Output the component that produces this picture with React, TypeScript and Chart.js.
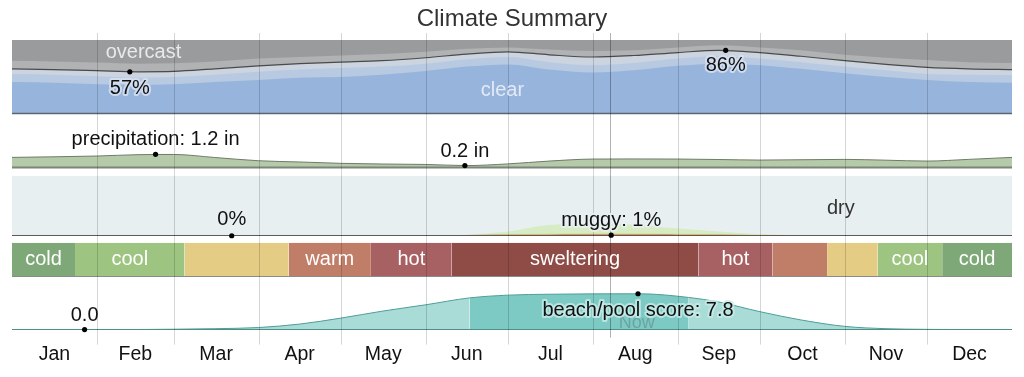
import React, { useEffect, useRef } from 'react';
import { Chart, registerables } from 'chart.js';

Chart.register(...registerables);

// ================= DATA =================
const monthLabels = ['Jan', 'Feb', 'Mar', 'Apr', 'May', 'Jun', 'Jul', 'Aug', 'Sep', 'Oct', 'Nov', 'Dec'];
const monthMidDays = [15.5, 45, 74.5, 105, 135.5, 166, 196.5, 227.5, 258, 288.5, 319, 349.5];
const monthStartDays = [31, 59, 90, 120, 151, 181, 212, 243, 273, 304, 334];
const nowDay = 218.3;

const sampleDays = [0, 15, 31, 46, 59, 74, 90, 105, 120, 135, 151, 166, 181, 196, 212, 227, 243, 258, 273, 288, 304, 319, 334, 349, 365];

// cloud cover, cumulative % of time (clear, +mostly clear, +partly cloudy, +mostly cloudy, +overcast)
const clearPct = [43, 42, 40, 39, 40, 43, 46, 49, 50, 53, 58, 64, 67, 60, 56, 59, 65, 68, 66, 61, 55, 50, 46, 43, 42];
const mostlyClearPct = [54, 53, 51, 49, 50, 53, 57, 60, 62, 64, 68, 74, 77, 70, 66, 69, 75, 78, 75, 70, 64, 59, 54, 53, 52.5];
const partlyCloudyPct = [61, 60, 58.5, 57, 57.5, 61, 65, 68, 70, 72, 76, 81, 84, 80, 77, 79, 83, 86, 83, 78, 72, 67, 63, 61, 60];
const mostlyCloudyPct = [72, 71, 69.5, 68, 68.5, 71, 75, 77, 79, 81, 84, 88, 90, 87, 85, 86, 90, 93, 90, 86, 80, 76, 73, 70, 69];
const overcastDays = [0, 365];
const overcastPct = [100, 100];

// precipitation (inches, sliding 31-day)
const precipIn = [0.93, 0.98, 1.05, 1.17, 1.19, 0.92, 0.63, 0.52, 0.4, 0.34, 0.3, 0.2, 0.35, 0.6, 0.78, 0.79, 0.78, 0.74, 0.69, 0.72, 0.75, 0.68, 0.6, 0.75, 0.93];

// humidity comfort, cumulative % of time
const humidityDays = [0, 135, 151, 166, 181, 196, 212, 227, 243, 258, 273, 288, 304, 365];
const muggyPct = [0, 0, 0, 0.2, 0.5, 0.8, 1, 1, 0.8, 0.5, 0.3, 0.1, 0.05, 0];
const humidPct = [0, 0, 0, 0.5, 1.5, 2.5, 3, 3, 2.5, 1.5, 0.8, 0.3, 0, 0];
const comfortablePct = [0, 0, 0.3, 1.5, 7, 18, 20, 18.5, 12, 7, 2.5, 0.5, 0, 0];
const dryDays = [0, 365];
const dryPct = [100, 100];

// temperature bands
const tempBandStartDays = [0, 23, 63, 101, 131, 160.5, 250.5, 277.5, 297.5, 316, 339.5];
const tempBandEndDays = [23, 63, 101, 131, 160.5, 250.5, 277.5, 297.5, 316, 339.5, 365];
const tempBandKinds = ['cold', 'cool', 'comfortable', 'warm', 'hot', 'sweltering', 'hot', 'warm', 'comfortable', 'cool', 'cold'];
const tempBandTexts = ['cold', 'cool', '', 'warm', 'hot', 'sweltering', 'hot', '', '', 'cool', 'cold'];

// beach/pool score
const beachDays = [0, 15, 31, 46, 59, 74, 90, 105, 120, 135, 151, 167, 181, 196, 212, 229, 247, 258, 273, 288, 304, 319, 334, 349, 365];
const beachScore = [0, 0, 0, 0.02, 0.08, 0.2, 0.45, 1.2, 2.5, 4.0, 5.4, 6.9, 7.5, 7.7, 7.78, 7.8, 7.0, 6.0, 3.9, 2.1, 0.7, 0.2, 0.05, 0, 0];
const bestSeasonStart = 167;
const bestSeasonEnd = 247;

// callouts (extremes)
const calloutTexts = ['57%', '86%', 'precipitation: 1.2 in', '0.2 in', '0%', 'muggy: 1%', '0.0', 'beach/pool score: 7.8'];
const calloutDays = [43, 260.5, 52.4, 165.3, 80.2, 218.7, 26.5, 228.5];
const calloutValues = [57, 86, 1.2, 0.2, 0, 1, 0, 7.8];
const calloutAxes = ['yCloud', 'yCloud', 'yPrecip', 'yPrecip', 'yHum', 'yHum', 'yBeach', 'yBeach'];

// region names
const regionTexts = ['overcast', 'clear', 'dry', 'Now'];
const regionDays = [48, 179, 302.5, 228];
const regionValues = [83, 32, 45, 1.5];
const regionAxes = ['yCloud', 'yCloud', 'yHum', 'yBeach'];

// ================= STYLE =================
const FONT = "'Liberation Sans', Arial, Helvetica, sans-serif";
const tempColors: Record<string, string> = {
  cold: '#7fa878',
  cool: '#9dc480',
  comfortable: '#e4cc84',
  warm: '#c07d68',
  hot: '#a76163',
  sweltering: '#8f4c46',
};
const calloutOffsetY = [17, 15, -14.5, -14.5, -16, -14.5, -14, 16.5];
const calloutHalo = [
  'rgba(215,225,240,0.85)', 'rgba(215,225,240,0.85)', null, null,
  'rgba(232,239,241,0.9)', 'rgba(232,239,241,0.9)', null, 'rgba(200,235,232,0.8)',
];
const regionColors = ['rgba(255,255,255,0.78)', 'rgba(255,255,255,0.72)', '#333', 'rgba(60,60,60,0.28)'];
const regionSizes = [20, 20, 20, 18];
const baselineStyles: [string, string, number][] = [
  ['yCloud', '#5b6675', 1.5],
  ['yPrecip', '#7d8479', 2],
  ['yHum', '#5a5a5a', 1],
  ['yTemp', '#8a8a8a', 1],
  ['yBeach', '#4d8f8a', 1],
];

const pts = (xs: number[], ys: number[]) => xs.map((x, i) => ({ x, y: ys[i] }));

function area(label: string, yAxisID: string, xs: number[], ys: number[], fillColor: string,
  lineColor = 'transparent', lineWidth = 0, extra: any = {}) {
  return {
    type: 'line', label, yAxisID, xAxisID: 'x', data: pts(xs, ys),
    backgroundColor: fillColor, borderColor: lineColor, borderWidth: lineWidth,
    fill: 'origin', pointRadius: 0, pointHoverRadius: 0,
    cubicInterpolationMode: 'monotone', ...extra,
  };
}

function panelAxis(weight: number, stackWeight: number, min: number, max: number) {
  return {
    type: 'linear', position: 'left', stack: 'panels', stackWeight, weight, min, max,
    display: true, offset: false,
    grid: { display: false, drawTicks: false },
    border: { display: false },
    ticks: { display: false },
    title: { display: false },
  };
}

function drawText(ctx: CanvasRenderingContext2D, text: string, x: number, y: number, color: string, size: number, halo?: string | null) {
  ctx.font = `${size}px ${FONT}`;
  ctx.textAlign = 'center';
  ctx.textBaseline = 'middle';
  if (halo) {
    ctx.lineWidth = 4;
    ctx.lineJoin = 'round';
    ctx.strokeStyle = halo;
    ctx.strokeText(text, x, y);
  }
  ctx.fillStyle = color;
  ctx.fillText(text, x, y);
}

const overlayPlugin = {
  id: 'overlay',
  afterDatasetsDraw(chart: any) {
    const { ctx, chartArea: a, scales } = chart;
    const xs = scales.x;
    ctx.save();
    // panel baselines
    for (const [id, color, w] of baselineStyles) {
      const s = scales[id];
      const y = Math.round(s.getPixelForValue(s.min)) - 0.5;
      ctx.strokeStyle = color;
      ctx.lineWidth = w;
      ctx.beginPath();
      ctx.moveTo(a.left, y);
      ctx.lineTo(a.right, y);
      ctx.stroke();
    }
    // month separators
    ctx.strokeStyle = 'rgba(0,0,0,0.16)';
    ctx.lineWidth = 1;
    for (const d of monthStartDays) {
      const x = Math.round(xs.getPixelForValue(d)) + 0.5;
      ctx.beginPath();
      ctx.moveTo(x, a.top - 7);
      ctx.lineTo(x, a.bottom + 15);
      ctx.stroke();
    }
    // now line
    {
      const x = Math.round(xs.getPixelForValue(nowDay)) + 0.5;
      ctx.strokeStyle = 'rgba(0,0,0,0.3)';
      ctx.beginPath();
      ctx.moveTo(x, a.top - 7);
      ctx.lineTo(x, a.bottom + 8);
      ctx.stroke();
    }
    // temperature band labels
    const yT = scales.yTemp;
    for (let i = 0; i < tempBandTexts.length; i++) {
      if (!tempBandTexts[i]) continue;
      const x = (xs.getPixelForValue(tempBandStartDays[i]) + xs.getPixelForValue(tempBandEndDays[i])) / 2;
      drawText(ctx, tempBandTexts[i], x, yT.getPixelForValue(0.5), '#ffffff', 20);
    }
    // region labels
    for (let i = 0; i < regionTexts.length; i++) {
      const s = scales[regionAxes[i]];
      drawText(ctx, regionTexts[i], xs.getPixelForValue(regionDays[i]), s.getPixelForValue(regionValues[i]), regionColors[i], regionSizes[i]);
    }
    // callouts
    for (let i = 0; i < calloutTexts.length; i++) {
      const s = scales[calloutAxes[i]];
      const x = xs.getPixelForValue(calloutDays[i]);
      const y = s.getPixelForValue(calloutValues[i]);
      drawText(ctx, calloutTexts[i], x, y + calloutOffsetY[i], '#111', 20, calloutHalo[i]);
      ctx.fillStyle = '#000';
      ctx.beginPath();
      ctx.arc(x, y, 2.6, 0, Math.PI * 2);
      ctx.fill();
    }
    ctx.restore();
  },
};

export default function App() {
  const ref = useRef<HTMLCanvasElement | null>(null);

  useEffect(() => {
    if (!ref.current) return;

    const datasets: any[] = [];

    // cloud cover: listed top-most layer first (index 0 is painted last)
    datasets.push(area('clear', 'yCloud', sampleDays, clearPct, '#97b4dc'));
    datasets.push(area('mostly clear', 'yCloud', sampleDays, mostlyClearPct, '#b8c9e2'));
    datasets.push(area('partly cloudy', 'yCloud', sampleDays, partlyCloudyPct, '#ccd4df', '#4a4a4a', 1.2));
    datasets.push(area('mostly cloudy', 'yCloud', sampleDays, mostlyCloudyPct, '#b1b2b4'));
    datasets.push(area('overcast', 'yCloud', overcastDays, overcastPct, '#9a9b9d'));

    // precipitation
    datasets.push(area('precipitation', 'yPrecip', sampleDays, precipIn, '#b5caa9', '#6f7b6b', 1));

    // humidity
    datasets.push(area('muggy', 'yHum', humidityDays, muggyPct, '#c9574f', '#c0504d', 1.2));
    datasets.push(area('humid', 'yHum', humidityDays, humidPct, '#ede58e', '#e6d873', 1));
    datasets.push(area('comfortable', 'yHum', humidityDays, comfortablePct, '#d5ecc4'));
    datasets.push(area('dry', 'yHum', dryDays, dryPct, '#e8eff1'));

    // temperature bands
    for (let i = 0; i < tempBandKinds.length; i++) {
      datasets.push(area(tempBandKinds[i], 'yTemp', [tempBandStartDays[i], tempBandEndDays[i]], [1, 1],
        tempColors[tempBandKinds[i]], 'transparent', 0, { cubicInterpolationMode: 'default', tension: 0 }));
    }

    // beach / pool
    datasets.push(area('beach/pool score', 'yBeach', beachDays, beachScore, '#a9dbd7', '#4f9e98', 1, {
      segment: {
        backgroundColor: (c: any) =>
          c.p0.parsed.x >= bestSeasonStart && c.p1.parsed.x <= bestSeasonEnd ? '#7dcac5' : undefined,
      },
    }));

    const chart = new Chart(ref.current, {
      type: 'line',
      data: { datasets },
      options: {
        animation: false,
        responsive: false,
        events: [],
        layout: { padding: { left: 12, right: 12, top: 0, bottom: -2 } },
        plugins: {
          legend: { display: false },
          tooltip: { enabled: false },
          title: {
            display: true,
            text: 'Climate Summary',
            color: '#333',
            font: { family: FONT, size: 24, weight: 'normal', lineHeight: 1.2 },
            padding: { top: 5, bottom: 6.2 },
          },
        },
        scales: {
          x: {
            type: 'linear', position: 'bottom', min: 0, max: 365, offset: false,
            grid: { display: false, drawTicks: false },
            border: { display: false },
            afterBuildTicks: (s: any) => { s.ticks = monthMidDays.map((v) => ({ value: v })); },
            ticks: {
              autoSkip: false, maxRotation: 0, padding: 13, color: '#111',
              font: { family: FONT, size: 19.5 },
              callback: (_v: any, i: number) => monthLabels[i],
            },
          },
          yCloud: panelAxis(9, 74, 0, 100),
          gap1: panelAxis(8, 9, 0, 1),
          yPrecip: panelAxis(7, 45, 0, 4),
          gap2: panelAxis(6, 8, 0, 1),
          yHum: panelAxis(5, 60, 0, 100),
          gap3: panelAxis(4, 7, 0, 1),
          yTemp: panelAxis(3, 34, 0, 1),
          gap4: panelAxis(2, 7, 0, 1),
          yBeach: panelAxis(1, 46, 0, 10),
        },
      } as any,
      plugins: [overlayPlugin],
    });

    return () => chart.destroy();
  }, []);

  return (
    <div style={{ position: 'absolute', left: 0, top: 0, width: 1024, height: 377, background: '#fff' }}>
      <canvas ref={ref} width={1024} height={377} style={{ display: 'block' }} />
    </div>
  );
}
